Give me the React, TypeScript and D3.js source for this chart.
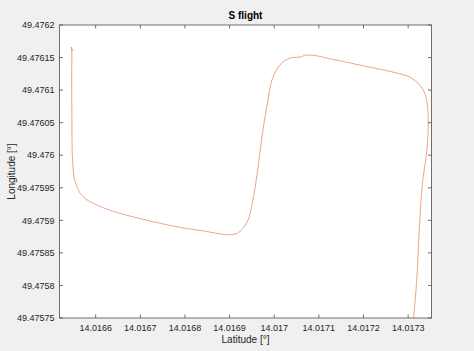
import React, { useEffect, useRef } from 'react';
import * as d3 from 'd3';

const width = 474;
const height = 351;
const margin = { top: 25, left: 59.5, right: 42.5, bottom: 33 };

// flight track
const latitude = [
  14.0165486, 14.0165452, 14.0165463, 14.0165463, 14.0165468, 14.0165474, 14.016549, 14.0165519,
  14.0165586, 14.0165653, 14.0165787, 14.0165944, 14.0166324, 14.0167063, 14.016789, 14.0168405,
  14.0168785, 14.0168964, 14.0169166, 14.01693, 14.0169412, 14.0169501, 14.0169613, 14.0169747,
  14.0169859, 14.0169949, 14.017006, 14.0170195, 14.0170351, 14.0170575, 14.0170642, 14.0170653,
  14.017091, 14.0171179, 14.0171917, 14.0172655, 14.0173036, 14.0173259, 14.0173371, 14.0173438,
  14.017345, 14.0173438, 14.0173394, 14.0173326, 14.0173282, 14.0173237, 14.0173192, 14.0173136,
  14.0173103,
];
const longitude = [
  49.47616, 49.4761662, 49.4761615, 49.4761154, 49.4760538, 49.4760077, 49.4759846, 49.4759646,
  49.4759508, 49.4759415, 49.4759323, 49.4759262, 49.4759154, 49.4759015, 49.4758892, 49.4758838,
  49.4758792, 49.4758777, 49.47588, 49.4758877, 49.4759, 49.4759231, 49.4759692, 49.4760385,
  49.4760846, 49.4761154, 49.4761323, 49.4761431, 49.4761492, 49.4761508, 49.4761515, 49.4761531,
  49.4761531, 49.4761492, 49.4761385, 49.4761277, 49.47612, 49.4761077, 49.4760954, 49.4760723,
  49.4760508, 49.4760231, 49.4759923, 49.4759615, 49.4759231, 49.4758692, 49.4758077, 49.4757615,
  49.4757308,
];
const xTicks = [14.0166, 14.0167, 14.0168, 14.0169, 14.017, 14.0171, 14.0172, 14.0173];
const yTicks = [49.47575, 49.4758, 49.47585, 49.4759, 49.47595, 49.476, 49.47605, 49.4761, 49.47615, 49.4762];
const xDomain = [14.016519, 14.0173523];
const yDomain = [49.47575, 49.4762];

const font = '"Liberation Sans", Arial, sans-serif';
const axisColor = '#4d4d4d';
const textColor = '#262626';

export default function App() {
  const ref = useRef<SVGSVGElement>(null);

  useEffect(() => {
    const svg = d3.select(ref.current);
    svg.selectAll('*').remove();

    const x = d3.scaleLinear().domain(xDomain).range([margin.left, width - margin.right]);
    const y = d3.scaleLinear().domain(yDomain).range([height - margin.bottom, margin.top]);
    const x0 = margin.left, x1 = width - margin.right;
    const y0 = height - margin.bottom, y1 = margin.top;

    svg.append('rect').attr('width', width).attr('height', height).attr('fill', '#f0f0f0');
    svg.append('rect')
      .attr('x', x0).attr('y', y1).attr('width', x1 - x0).attr('height', y0 - y1)
      .attr('fill', 'white');

    svg.append('clipPath').attr('id', 'plot-clip')
      .append('rect')
      .attr('x', x0).attr('y', y1).attr('width', x1 - x0).attr('height', y0 - y1);

    const pts = latitude.map((d, i) => [d, longitude[i]] as [number, number]);
    const line = d3.line<[number, number]>()
      .x(d => x(d[0]))
      .y(d => y(d[1]))
      .curve(d3.curveCatmullRom.alpha(0.5));

    svg.append('path')
      .datum(pts)
      .attr('clip-path', 'url(#plot-clip)')
      .attr('fill', 'none')
      .attr('stroke', '#e88c6c')
      .attr('stroke-width', 0.8)
      .attr('d', line);

    // box + ticks on all four sides
    const g = svg.append('g').attr('stroke', axisColor).attr('stroke-width', 0.8).attr('fill', 'none');
    g.append('rect').attr('x', x0).attr('y', y1).attr('width', x1 - x0).attr('height', y0 - y1);
    const tl = 3.5;
    xTicks.forEach(t => {
      g.append('line').attr('x1', x(t)).attr('x2', x(t)).attr('y1', y0).attr('y2', y0 - tl);
      g.append('line').attr('x1', x(t)).attr('x2', x(t)).attr('y1', y1).attr('y2', y1 + tl);
    });
    yTicks.forEach(t => {
      g.append('line').attr('x1', x0).attr('x2', x0 + tl).attr('y1', y(t)).attr('y2', y(t));
      g.append('line').attr('x1', x1).attr('x2', x1 - tl).attr('y1', y(t)).attr('y2', y(t));
    });

    const txt = svg.append('g').attr('font-family', font).attr('fill', textColor);
    txt.selectAll('text.xt')
      .data(xTicks)
      .join('text')
      .attr('x', d => x(d))
      .attr('y', y0 + 13)
      .attr('text-anchor', 'middle')
      .attr('font-size', 9)
      .text(d => String(+d.toFixed(4)));
    txt.selectAll('text.yt')
      .data(yTicks)
      .join('text')
      .attr('class', 'yt')
      .attr('x', x0 - 5)
      .attr('y', d => y(d) + 3.2)
      .attr('text-anchor', 'end')
      .attr('font-size', 9)
      .text(d => String(+d.toFixed(5)));

    txt.append('text')
      .attr('x', (x0 + x1) / 2).attr('y', y0 + 25)
      .attr('text-anchor', 'middle').attr('font-size', 10)
      .text('Latitude [°]');
    txt.append('text')
      .attr('transform', `translate(15,${(y0 + y1) / 2}) rotate(-90)`)
      .attr('text-anchor', 'middle').attr('font-size', 10)
      .text('Longitude [°]');
    txt.append('text')
      .attr('x', (x0 + x1) / 2).attr('y', 19)
      .attr('text-anchor', 'middle').attr('font-size', 10).attr('font-weight', 'bold')
      .attr('fill', '#000')
      .text('S flight');
  }, []);

  return (
    <svg ref={ref} width={width} height={height}
      style={{ position: 'absolute', left: 0, top: 0, display: 'block' }} />
  );
}
